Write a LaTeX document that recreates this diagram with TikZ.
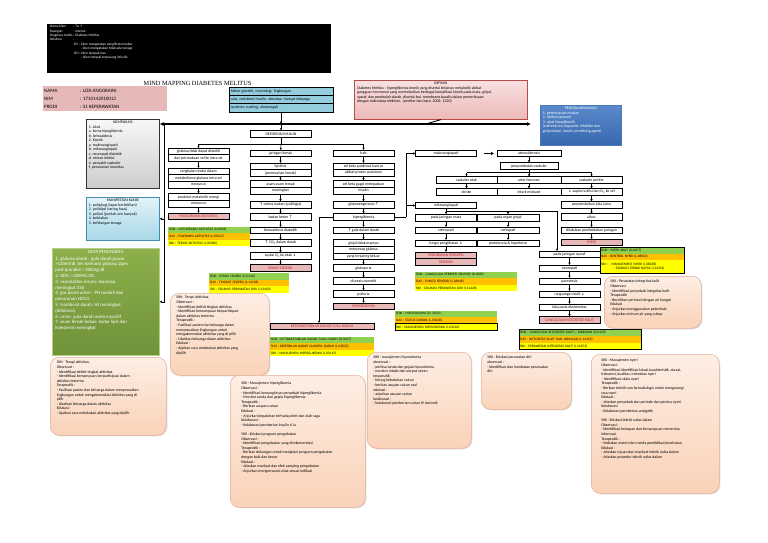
\documentclass[tikz,border=0pt]{standalone}
\usepackage{fontspec}
\setmainfont{Carlito}
\newfontfamily\judulfont{Liberation Serif}
\newfontfamily\simbolfont{DejaVu Sans}
\usepackage{tikz}
\usetikzlibrary{positioning, arrows.meta, shadows}
\definecolor{MerahMuda}{HTML}{E6B9B8}
\definecolor{TeksMerah}{HTML}{C0262C}
\definecolor{BiruEtio}{HTML}{93CDDD}
\definecolor{Hijau}{HTML}{92D050}
\definecolor{Oranye}{HTML}{FFC000}
\definecolor{Kuning}{HTML}{FFFF00}
\definecolor{SikiAtas}{HTML}{FDEEE4}
\definecolor{SikiBawah}{HTML}{FAD2B8}
\definecolor{SikiGaris}{HTML}{E2AE98}
\definecolor{DefAtas}{HTML}{F9E1E1}
\definecolor{DefBawah}{HTML}{EBB8B7}
\definecolor{DefGaris}{HTML}{B84A47}
\definecolor{PenAtas}{HTML}{5A8ACB}
\definecolor{PenBawah}{HTML}{3767AE}
\definecolor{PenGaris}{HTML}{4A79B8}
\definecolor{DataAtas}{HTML}{8CB04A}
\definecolor{DataBawah}{HTML}{70923A}
\definecolor{DataGaris}{HTML}{B5CE84}
\definecolor{ManAtas}{HTML}{E2F2F8}
\definecolor{ManBawah}{HTML}{A8D8E8}
\definecolor{ManGaris}{HTML}{3F8FB0}
\definecolor{KomAtas}{HTML}{F7F7F7}
\definecolor{KomBawah}{HTML}{CDCDCD}
\newcommand{\fhead}{\fontsize{3.5}{4.4}\selectfont}
\newcommand{\fnama}{\fontsize{5}{6}\selectfont}
\newcommand{\fkotak}{\fontsize{3.9}{4.5}\selectfont}
\newcommand{\fkode}{\fontsize{3.5}{4.2}\selectfont}
\newcommand{\fsiki}{\fontsize{3.9}{4.6}\selectfont}
\newcommand{\fdata}{\fontsize{4.8}{5.8}\selectfont}
\newcommand{\naik}{{\simbolfont\char"2191}}
\newcommand{\turun}{{\simbolfont\char"2193}}
\newcommand{\isikotak}[3]{\parbox[t][#2][t]{#1}{\raggedright\hyphenpenalty=10000\relax #3}}

\begin{document}
\begin{tikzpicture}[x=1pt, y=-1pt,
  kotak/.style={draw, line width=0.8pt, fill=white, minimum width=61pt, minimum height=6.6pt, inner sep=0pt, outer sep=0pt, font=\fkotak},
  diag/.style={kotak, fill=MerahMuda, text=TeksMerah},
  etio/.style={draw, line width=0.5pt, fill=BiruEtio, anchor=north west, minimum height=8.3pt, text width=100pt, inner xsep=2pt, inner ysep=0pt, outer sep=0pt, font=\fkotak, align=left},
  baris/.style={anchor=north west, minimum height=6.6pt, text width=#1, inner xsep=1pt, inner ysep=0pt, outer sep=0pt, font=\fkode, align=left},
  panah/.style={-{Latex[length=2.4pt,width=2.4pt]}, line width=0.6pt},
  garis/.style={line width=0.6pt},
  panel/.style={anchor=north west, drop shadow={opacity=0.25, shadow xshift=1pt, shadow yshift=-1pt}},
  judulpanel/.style={anchor=north, inner sep=0pt, font=\fkotak},
  siki/.style={panel, draw=SikiGaris, line width=0.5pt, rounded corners=9pt, top color=SikiAtas, bottom color=SikiBawah, font=\fsiki},
]
\useasboundingbox (0,0) rectangle (768,543);
\fill[white] (0,0) rectangle (768,543);

%% identitas klien
\fill[black] (47,24) rectangle (331,73);
\node[anchor=north west, inner sep=0pt, text=white, font=\fhead] (identitas) at (50,24.5)
  {\begin{tabular}{@{}l@{\ }l@{}}Nama klien & : Tn. Y\\ Ruangan & : Interne\\ Diagnosa medis & : Diabetes Melitus\\ Keluhan & :\end{tabular}};
\node[anchor=north west, inner sep=0pt, text=white, font=\fhead] (keluhan) at (74,42)
  {\begin{tabular}{@{}l@{\ }l@{}}DS : & klien mengatakan penglihatan kabur\\ & - klien mengatakan tidak ada tenaga\\ DO : & klien tampak lesu\\ & - klien tampak terpasang infus RL\end{tabular}};

%% judul dan nama
\node[font=\judulfont\fontsize{6.3}{7}\selectfont, inner sep=0pt] (judul) at (197.5,83) {MIND MAPPING DIABETES MELITUS};
\fill[MerahMuda] (43,86) rectangle (167,111);
\node[anchor=west, inner sep=0pt, font=\fnama] (nama) at (44,90.5) {\makebox[36pt][l]{NAMA}: LIZA ANGGRAINI};
\node[anchor=west, inner sep=0pt, font=\fnama] (nim) at (44,98.8) {\makebox[36pt][l]{NIM}: 1710142010013};
\node[anchor=west, inner sep=0pt, font=\fnama] (prodi) at (44,107) {\makebox[36pt][l]{PRODI}: S1 KEPERAWATAN};

%% etiologi
\node[etio] (eti1) at (229,87) {faktor genetik, imunologi, lingkungan};
\node[etio, below=0pt of eti1] (eti2) {usia, resistensi insulin, obesitas, riwayat keluarga};
\node[etio, below=0pt of eti2] (eti3) {syndrom cushing, akromegali};

%% definisi dan penatalaksanaan
\node[panel, draw=DefGaris, line width=0.6pt, top color=DefAtas, bottom color=DefBawah, inner xsep=3pt, inner ysep=1.5pt, font=\fkotak] (definisi) at (354,80)
  {\isikotak{167pt}{36pt}{\strut\\ Diabetes Melitus : hiperglikemia kronik yang disertai kelainan metabolik akibat\\ gangguan hormonal yang menimbulkan berbagai komplikasi kronik pada mata, ginjal,\\ syaraf, dan pembuluh darah, disertai lesi, membrane basalis dalam pemeriksaan\\ dengan mikroskop elektron. (smelter dan bare, 2002: 1220)}};
\node[judulpanel] (definisi-judul) at ([yshift=-1.6pt]definisi.north) {DEFINISI};
\node[panel, draw=PenGaris, line width=0.6pt, top color=PenAtas, bottom color=PenBawah, text=white, inner xsep=2.5pt, inner ysep=1.5pt, font=\fkotak] (penata) at (540,105)
  {\isikotak{76pt}{37pt}{\strut\\ 1. perencanaan makan\\ 2. latihan jasmani\\ 3. obat hipoglikemik\\ (sulfonilurea, biguanid, inhibitor dan\\ glukosidase, insulin sensitizing agent)}};
\node[judulpanel, text=white] (penata-judul) at ([yshift=-1.6pt]penata.north) {PENATALAKSANAAN};

%% komplikasi, manifestasi, data penunjang
\node[panel, draw=black!80, line width=0.6pt, top color=KomAtas, bottom color=KomBawah, inner xsep=2.5pt, inner ysep=1.5pt, font=\fkotak] (komplikasi) at (86,119)
  {\isikotak{68pt}{66pt}{\strut\\ 1. Akut\\ a. koma hipoglikemia\\ b. ketoasidosis\\ 2. Kronik\\ a. makroangiopati\\ b. mikroangiopati\\ c. neuropati diabetik\\ d. rentan infeksi\\ e. penyakit vaskuler\\ f. penurunan imunitas}};
\node[judulpanel] (komplikasi-judul) at ([yshift=-1.6pt]komplikasi.north) {KOMPLIKASI};
\node[panel, draw=ManGaris, line width=0.6pt, top color=ManAtas, bottom color=ManBawah, inner xsep=2.5pt, inner ysep=1.5pt, font=\fkotak] (manif) at (86,197)
  {\isikotak{68pt}{40pt}{\strut\\ 1. poliphagi (lapar berlebihan)\\ 2. polidipsi (sering haus)\\ 3. poliuri (jumlah urin banyak)\\ 4. kelelahan\\ 5. kehilangan tenaga}};
\node[judulpanel] (manif-judul) at ([yshift=-1.6pt]manif.north) {MANIFESTASI KLINIS};
\node[panel, draw=DataGaris, line width=0.6pt, top color=DataAtas, bottom color=DataBawah, text=white, inner xsep=3pt, inner ysep=2pt, font=\fdata] (data) at (52,248)
  {\isikotak{101pt}{103pt}{\strut\\ 1. glukosa darah : gula darah puasa\\ >130ml/dl, tes toleransi glukosa 2jam\\ post prandial > 200mg/dl\\ 2. GDS: >200MG/DL\\ 3. osmolalitas serum: biasanya\\ meningkat 330\\ 4. gas darah arteri : PH rendah dan\\ penurunan HCO3\\ 5. trombosit darah: Ht meningkat\\ (dehitrasi)\\ 6. urine: gula darah aseton positif\\ 7. asam lemak bebas: kadar lipit dan\\ kolesterol meningkat}};
\node[judulpanel, font=\fdata, text=white] (data-judul) at ([yshift=-2.2pt]data.north) {DATA PENUNJANG};

%% defisiensi insulin
\node[kotak] (defis) at (281,134) {DEFISIENSI INSULIN};

%% kolom kiri
\node[kotak] (l1a) at (198.5,151.5) {glukosa tidak dapat diambil};
\node[kotak, below=0pt of l1a] (l1b) {dari permukaan sel ke intra sel};
\node[kotak] (l2a) at (198.5,171.5) {rangkaian reaksi dalam};
\node[kotak, below=0pt of l2a] (l2b) {metabolisme glukosa intra sel};
\node[kotak, below=0pt of l2b] (l2c) {menurun};
\node[kotak] (l3a) at (198.5,197) {produksi metabolik energi};
\node[kotak, below=0pt of l3a] (l3b) {menurun};
\node[diag] (l4) at (198.5,216.5) {INTOLERANSI AKTIVITAS};
\node[baris=80pt, fill=Hijau] (kiri-sdki) at (168,226.5) {SDKI : INTOLERANSI AKTIVITAS (D.0056)};
\node[baris=80pt, fill=Oranye] (kiri-slki) at (kiri-sdki.south west) {SLKI : TOLERANSI AKTIVITAS (L.05047)};
\node[baris=80pt, fill=Kuning] (kiri-siki) at (kiri-slki.south west) {SIKI : TERAPI AKTIVITAS (I.05186)};

%% kolom tengah
\node[kotak] (m1) at (280.5,153.5) {jaringan lemak};
\node[kotak] (m2a) at (280.5,166.3) {lipolisis};
\node[kotak, below=0pt of m2a] (m2b) {(pemecahan lemak)};
\node[kotak] (m3a) at (280.5,184) {asam asam lemak};
\node[kotak, below=0pt of m3a] (m3b) {meningkat};
\node[kotak] (m4) at (280.5,204.8) {\naik\ selera makan (polifagia)};
\node[kotak] (m5) at (280.5,217) {badan keton \naik};
\node[kotak] (m6) at (280.5,230.5) {ketoasidosis diabetik};
\node[kotak] (m7) at (280.5,243) {\naik\ CO\textsubscript{2} dalam darah};
\node[kotak] (m8) at (280.5,255.8) {suplai O\textsubscript{2} ke otak \turun};
\node[diag] (m9) at (280.5,268) {RISIKO CEDERA};
\node[baris=78pt, fill=Hijau] (tengah-sdki) at (209,273) {SDKI : RISIKO CEDERA (D.0136)};
\node[baris=78pt, fill=Oranye] (tengah-slki) at (tengah-sdki.south west) {SLKI : TINGKAT CEDERA (L.14136)};
\node[baris=78pt, fill=Kuning] (tengah-siki) at (tengah-slki.south west) {SIKI : EDUKASI PERAWATAN DIRI (I.12420)};

%% kolom kanan
\node[kotak] (r1) at (363.5,153.5) {hati};
\node[kotak] (r2a) at (363.5,166.3) {sel beta pankreas hancur};
\node[kotak, below=0pt of r2a] (r2b) {akibat proses autoimun};
\node[kotak] (r3a) at (363.5,184) {sel beta gagal melepaskan};
\node[kotak, below=0pt of r3a] (r3b) {insulin};
\node[kotak] (r4) at (363.5,204.8) {glukoneogenesis \naik};
\node[kotak] (r5) at (363.5,217) {hiperglikemia};
\node[kotak] (r6) at (363.5,230.5) {\naik\ gula dalam darah};
\node[kotak] (r7a) at (363.5,243) {ginjal tidak mampu};
\node[kotak, below=0pt of r7a] (r7b) {menyerap glukosa};
\node[kotak, below=0pt of r7b] (r7c) {yang tersaring keluar};
\node[kotak] (r8) at (363.5,268) {glukosuria};
\node[kotak] (r9) at (363.5,281) {diuresis osmotik};
\node[kotak] (r10) at (363.5,294) {poliuria};
\node[diag] (r11) at (363.5,306.5) {HIPOVOLEMIA};
\node[baris=100pt, fill=Hijau] (hipo-sdki) at (395,310.5) {SDKI : HIPOVOLEMIA (D. 0023)};
\node[baris=100pt, fill=Oranye] (hipo-slki) at (hipo-sdki.south west) {SLKI : STATUS CAIRAN (L.03028)};
\node[baris=100pt, fill=Kuning, draw, line width=0.7pt] (hipo-siki) at (hipo-slki.south west) {SIKI : MANAJEMEN HIPOVOLEMIA (I.03116)};

%% ketidakstabilan gula darah
\node[diag, minimum width=104pt] (kgd) at (322,326.5) {KETIDAKSTABILAN KADAR GULA DARAH};
\node[baris=102pt, fill=Hijau] (kgd-sdki) at (270,336.5) {SDKI : KETIDAKSTABILAN KADAR GULA DARAH (D.0027)};
\node[baris=102pt, fill=Oranye] (kgd-slki) at (kgd-sdki.south west) {SLKI : KESTABILAN KADAR GLUKOSA DARAH (L.03022)};
\node[baris=102pt, fill=Kuning] (kgd-siki) at (kgd-slki.south west) {SIKI : MANAJEMEN HIPERGLIKEMIA (I.03115)};

%% makroangiopati
\node[kotak] (mak) at (446,153.5) {makroangiopati};
\node[kotak, minimum width=64pt] (ate) at (529,153.5) {aterosklerosis};
\node[kotak, minimum width=58pt] (pen) at (529,166) {penyumbatan vaskuler};
\node[kotak] (vot) at (466.5,180) {vaskuler otak};
\node[kotak, minimum width=64pt] (kor) at (529,180) {arteri koroner};
\node[kotak] (per) at (591.5,180) {vaskuler perifer};
\node[kotak] (str) at (466.5,191.8) {stroke};
\node[kotak, minimum width=64pt] (inf) at (529,191.8) {infark miokard};
\node[kotak] (sup) at (591.5,191.8) {\turun\ suplai nutrisi dan O\textsubscript{2} ke sel};
\node[kotak] (sem) at (591.5,204.8) {penyembuhan luka lama};
\node[kotak] (ulk) at (591.5,217) {ulkus};
\node[kotak] (deb) at (591.5,230.5) {dilakukan pembedahan jaringan};
\node[diag] (nye) at (591.5,242.5) {NYERI};
\node[baris=82pt, fill=Hijau] (nyeri-sdki) at (600,247) {SDKI : NYERI AKUT (D.0077)};
\node[baris=82pt, fill=Oranye] (nyeri-slki) at (nyeri-sdki.south west) {SLKI : KONTROL NYERI (L.08063)};
\node[baris=82pt, fill=Kuning, minimum height=12.8pt] (nyeri-siki) at (nyeri-slki.south west) {SIKI : - MANAJEMENT NYERI (I.08238)\\ \hspace*{13pt}- EDUKASI TEKNIK NAFAS (I.12452)};
\draw[line width=0.7pt] (nyeri-sdki.north west) rectangle (nyeri-siki.south east);

%% mikroangiopati
\node[kotak] (mik) at (446,205.5) {mikroangiopati};
\node[kotak] (mat) at (446,217.6) {pada jaringan mata};
\node[kotak, minimum width=62pt] (gin) at (508,217.6) {pada organ ginjal};
\node[kotak] (ret) at (446,230.5) {retinopati};
\node[kotak, minimum width=62pt] (nef) at (508,230.5) {nefropati};
\node[kotak] (fun) at (446,243.5) {fungsi penglihatan \turun};
\node[kotak, minimum width=62pt] (pro) at (508,243.5) {proteinuria \& hipertensi};
\node[diag] (pp1) at (446,255.3) {PERUBAHAN PERSEPSI};
\node[diag, below=0pt of pp1] (pp2) {SENSORI};
\node[baris=100pt, fill=Hijau] (per-sdki) at (415,271.5) {SDKI : GANGGUAN PERSEPSI SENSORI (D.0085)};
\node[baris=100pt, fill=Oranye] (per-slki) at (per-sdki.south west) {SLKI : FUNGSI SENSORI (L.06048)};
\node[baris=100pt, fill=Kuning] (per-siki) at (per-slki.south west) {SIKI : EDUKASI PERAWATAN DIRI (I.12428)};
\node[kotak] (sya) at (569.5,254.5) {pada jaringan syaraf};
\node[kotak] (neu) at (569.5,268.3) {neuropati};
\node[kotak] (par) at (569.5,281.3) {parestesia};
\node[kotak] (ran) at (569.5,294.3) {rangsangan kulit \turun};
\node[kotak] (luk) at (569.5,307.3) {luka pada ekstremitas};
\node[diag] (gik) at (569.5,319.8) {GANGGUAN INTEGRITAS KULIT};
\node[baris=120pt, fill=Hijau] (integ-sdki) at (519,329.5) {SDKI : GANGGUAN INTEGRITAS KULIT / JARINGAN (D.0129)};
\node[baris=120pt, fill=Oranye] (integ-slki) at (integ-sdki.south west) {SLKI : INTEGRITAS KULIT DAN JARINGAN (L.14125)};
\node[baris=120pt, fill=Kuning] (integ-siki) at (integ-slki.south west) {SIKI : PERAWATAN INTEGRITAS KULIT (I.11353)};
\draw[line width=0.7pt] (integ-sdki.north west) rectangle (integ-siki.south east);

%% garis utama
\coordinate (sp) at (281,124);
\coordinate (pn) at (531,124);
\coordinate (sd) at (426,124);
\coordinate (vk) at (164.5,124);
\draw[line width=1.5pt, {Latex[length=4pt,width=4pt]}-{Latex[length=4pt,width=4pt]}] (komplikasi.east |- sp) -- (pn);
\draw[line width=0.9pt] (definisi.south) -- (sd);
\draw[panah] (eti3.south) -- (sp);
\draw[panah] (sp) -- (defis);
\draw[garis] (vk) -- (vk |- data.east);
\draw[panah] (vk |- manif.east) -- (manif.east);
\draw[panah] (vk |- data.east) -- (data.east);

%% cabang defisiensi
\coordinate (cd) at (281,144);
\draw[garis] (defis) -- (cd);
\draw[garis] (cd -| l1a) -- (cd -| r1);
\draw[panah] (cd -| l1a) -- (l1a);
\draw[panah] (cd) -- (m1);
\draw[panah] (cd -| r1) -- (r1);
\draw[panah] (l1b) -- (l2a); \draw[panah] (l2c) -- (l3a); \draw[panah] (l3b) -- (l4);
\draw[panah] (m1) -- (m2a); \draw[panah] (m2b) -- (m3a); \draw[panah] (m3b) -- (m4);
\draw[panah] (m4) -- (m5); \draw[panah] (m5) -- (m6); \draw[panah] (m6) -- (m7);
\draw[panah] (m7) -- (m8); \draw[panah] (m8) -- (m9);
\draw[panah] (r1) -- (r2a); \draw[panah] (r2b) -- (r3a); \draw[panah] (r3b) -- (r4);
\draw[panah] (r4) -- (r5); \draw[panah] (r5) -- (r6); \draw[panah] (r6) -- (r7a);
\draw[panah] (r7c) -- (r8); \draw[panah] (r8) -- (r9); \draw[panah] (r9) -- (r10);
\draw[panah] (r10) -- (r11);

%% hiperglikemia ke komplikasi vaskuler
\coordinate (jk) at (319,217);
\coordinate (jm) at (406,217);
\draw[panah] (r5.west) -- (jk) -- (jk |- kgd.north);
\draw[garis] (r5.east) -- (jm);
\draw[panah] (jm) |- (mak);
\draw[panah] (jm) |- (mik);
\draw[line width=1.3pt, -{Latex[length=3pt,width=3.6pt]}, shorten <=7pt, shorten >=3pt] (mak) -- (ate);
\draw[panah] (ate) -- (pen);
\coordinate (cv) at (529,172.6);
\draw[garis] (pen) -- (cv);
\draw[garis] (cv -| vot) -- (cv -| per);
\draw[panah] (cv -| vot) -- (vot); \draw[panah] (cv) -- (kor); \draw[panah] (cv -| per) -- (per);
\draw[panah] (vot) -- (str); \draw[panah] (kor) -- (inf); \draw[panah] (per) -- (sup);
\draw[panah] (sup) -- (sem); \draw[panah] (sem) -- (ulk); \draw[panah] (ulk) -- (deb);
\draw[panah] (deb) -- (nye);
\coordinate (cm) at (446,211.2);
\coordinate (cs) at (557,211.2);
\draw[garis] (mik) -- (cm);
\draw[garis] (cm) -- (cs);
\draw[panah] (cm) -- (mat); \draw[panah] (cm -| gin) -- (gin);
\draw[panah] (cs) -- (cs |- sya.north);
\draw[panah] (mat) -- (ret); \draw[panah] (gin) -- (nef);
\draw[panah] (ret) -- (fun); \draw[panah] (nef) -- (pro);
\draw[panah] (fun) -- (pp1);
\draw[panah] (sya) -- (neu); \draw[panah] (neu) -- (par); \draw[panah] (par) -- (ran);
\draw[panah] (ran) -- (luk); \draw[panah] (luk) -- (gik);

%% intervensi SIKI
\node[siki, inner xsep=6pt, inner ysep=3pt] (siki-aktivitas) at (170,293)
  {\isikotak{87pt}{76pt}{SIKI:\ \ Terapi aktivitas.\\ Observasi :\\ - Identifikasi defisit tingkat aktivitas\\ - Identifikasi kemampuan berpartisipasi\\ dalam aktivitas tertentu\\ Terapeutik :\\ - Fasilitasi pasien dan keluarga dalam\\ menyesuaikan lingkungan untuk\\ mengakomodasi aktivitas yang di pilih\\ - Libatkan keluarga dalam aktivitas\\ Edukasi :\\ - Ajarkan cara melakukan aktivitas yang\\ dipilih}};
\node[siki, inner xsep=6.5pt, inner ysep=4pt] (siki-aktivitas2) at (50,357)
  {\isikotak{103pt}{70pt}{SIKI:\ \ Terapi aktivitas.\\ Observasi :\\ - Identifikasi defisit tingkat aktivitas\\ - Identifikasi kemampuan berpartisipasi dalam\\ aktivitas tertentu\\ Terapeutik :\\ - Fasilitasi pasien dan keluarga dalam menyesuaikan\\ lingkungan untuk mengakomodasi aktivitas yang di\\ pilih\\ - Libatkan keluarga dalam aktivitas\\ Edukasi :\\ - Ajarkan cara melakukan aktivitas yang dipilih}};
\node[siki, inner xsep=11pt, inner ysep=7pt] (siki-hiper) at (230,375)
  {\isikotak{113pt}{118pt}{SIKI : Manajemen hiperglikemia\\ Observasi :\\ - Identifikasi kemungkinan penyebab hiperglikemia\\ - Monitor tanda dan gejala hiperglikemia\\ Terapeutik :\\ - Berikan asupan cairan\\ Edukasi :\\ - Anjurkan kepatuhan terhadap diet dan olah raga\\ Kolaborasi :\\ - Kolaborasi pemberian insulin 6 iu\\[4.6pt] SIKI : Edukasi program pengobatan\\ Observasi :\\ - Identifikasi pengobatan yang direkomendasi\\ Terapeutik :\\ - Berikan dukungan untuk menjalani program pengobatan\\ dengan baik dan benar\\ Edukasi :\\ - Jelaskan manfaat dan efek samping pengobatan\\ - Anjurkan mengonsumsi obat sesuai indikasi}};
\node[siki, inner xsep=6pt, inner ysep=4pt] (siki-hipo) at (367,352)
  {\isikotak{92pt}{88pt}{SIKI : manajemen hipovolemia\\ observasi :\\ - periksa tanda dan gejala hipovolemia\\ - monitor intake dan output cairan\\ terapeutik :\\ - hitung kebutuhan cairan\\ - berikan asupan cairan oral\\ edukasi :\\ - anjurkan asupan cairan\\ kolaborasi :\\ - kolaborasi pemberian cairan IV isotonik}};
\node[siki, inner xsep=6pt, inner ysep=4pt] (siki-rawat) at (481,352)
  {\isikotak{78pt}{49pt}{SIKI : Edukasi perawatan diri\\ observasi :\\ - identifikasi dan hambatan perawatan\\ diri}};
\node[siki, inner xsep=6pt, inner ysep=4pt] (siki-kulit) at (604,276)
  {\isikotak{85pt}{44pt}{SIKI : Perawatan integritas kulit\\ Observasi\\ - Identifikasi penyebab integritas kulit\\ Terapeutik\\ - Bersihkan perineal dengan air hangat\\ Edukasi\\ - Anjurkan menggunakan pelembab\\ - Anjurkan minum air yang cukup}};
\node[siki, inner xsep=10pt, inner ysep=5pt] (siki-nyeri) at (591,354)
  {\isikotak{108pt}{129pt}{SIKI : Manajemen nyeri\\ Observasi :\\ - Identifikasi identifikasi lokasi,karakteristik, durasi,\\ frekuensi, kualitas, intensitas nyeri\\ \ - Identifikasi skala nyeri\\ Terapeutik :\\ - Berikan teknik non farmakologis untuk mengurangi\\ rasa nyeri\\ Edukasi :\\ - Jelaskan penyebab dan periode dan pemicu nyeri\\ Kolaborasi\\ - Kolaborasi pemberian analgetik\\[4.6pt] SIKI : Edukasi teknik nafas dalam\\ Observasi :\\ - Identifikasi kesiapan dan kemampuan menerima\\ informasi\\ Terapeutik :\\ - Sediakan materi dan media pendidikan kesehatan\\ Edukasi :\\ - Jelaskan tujuan dan manfaat teknik nafas dalam\\ - Jelaskan prosedur teknik nafas dalam}};
\end{tikzpicture}
\end{document}
